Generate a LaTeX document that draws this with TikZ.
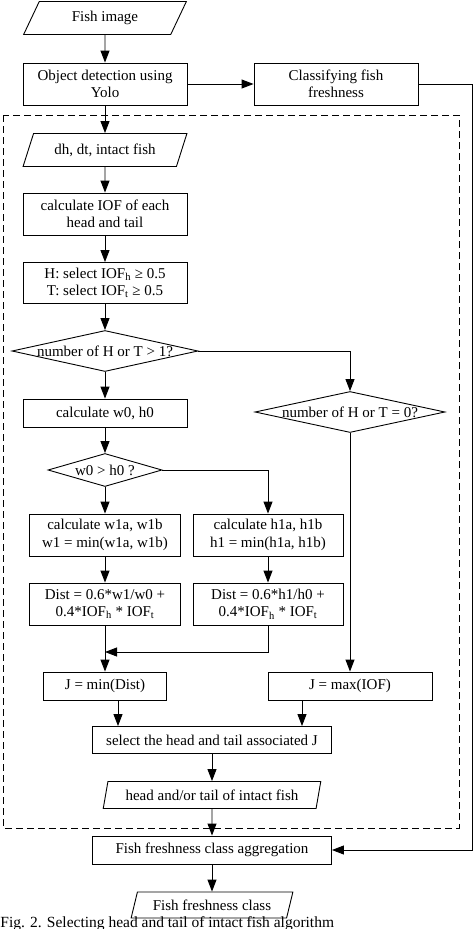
\documentclass[tikz,border=0pt]{standalone}
\usepackage{fontspec}
\setmainfont{Liberation Serif}
\usetikzlibrary{arrows.meta,shapes.geometric}

\begin{document}
\begin{tikzpicture}[x=1pt,y=-1pt,line width=0.9pt,
   font=\fontsize{15}{17.5}\selectfont,
   box/.style={draw,rectangle,inner sep=0pt,align=center,minimum height=28pt},
   io/.style={draw,trapezium,trapezium stretches=true,inner sep=0pt,align=center},
   dec/.style={draw,diamond,inner sep=0pt},
   arr/.style={-{Triangle[length=12pt,width=9pt]}}]
   \clip (0,0) rectangle (474,929);
   \useasboundingbox (0,0) rectangle (474,929);
 %
   \node[io,minimum width=164pt,minimum height=33pt,
         trapezium left angle=60,trapezium right angle=120]
         (fish)  at ( 105,  18) {Fish image};
   \node[box,minimum width=164pt,minimum height=42pt]
         (det)   at ( 105,  84) {Object detection using\\Yolo};
   \node[box,minimum width=164pt,minimum height=42pt]
         (cls)   at ( 336,  84) {Classifying fish\\freshness};
 %
   \draw[dash pattern=on 7pt off 4pt] (3,115) rectangle (459,828);
 %
   \node[io,minimum width=164pt,minimum height=33pt,
         trapezium left angle=60,trapezium right angle=120]
         (dh)    at ( 105, 150) {dh, dt, intact fish};
   \node[box,minimum width=164pt,minimum height=42pt]
         (iof)   at ( 105, 214) {calculate IOF of each\\head and tail};
   \node[box,minimum width=164pt,minimum height=41pt]
         (sel)   at ( 105, 283) {H: select IOF\textsubscript{h} ≥ 0.5\\T: select IOF\textsubscript{t} ≥ 0.5};
   \node[dec,minimum width=186pt,minimum height=41pt,
         label=center:{number of H or T > 1?}]
         (many)  at ( 105, 351) {};
   \node[dec,minimum width=190pt,minimum height=41pt,
         label=center:{number of H or T = 0?}]
         (none)  at ( 350, 412) {};
   \node[box,minimum width=164pt]
         (wh)    at ( 105, 413) {calculate w0, h0};
   \node[dec,minimum width=114pt,minimum height=33pt,
         label=center:{w0 > h0 ?}]
         (cmp)   at ( 105, 470) {};
   \node[box,minimum width=151pt,minimum height=42pt]
         (wmin)  at ( 105, 535) {calculate w1a, w1b\\w1 = min(w1a, w1b)};
   \node[box,minimum width=150pt,minimum height=42pt]
         (hmin)  at ( 268, 535) {calculate h1a, h1b\\h1 = min(h1a, h1b)};
   \node[box,minimum width=151pt,minimum height=42pt]
         (wdist) at ( 105, 604) {Dist = 0.6*w1/w0 +\\0.4*IOF\textsubscript{h} * IOF\textsubscript{t}};
   \node[box,minimum width=150pt,minimum height=42pt]
         (hdist) at ( 268, 604) {Dist = 0.6*h1/h0 +\\0.4*IOF\textsubscript{h} * IOF\textsubscript{t}};
   \node[box,minimum width=123pt]
         (jmin)  at ( 105, 686) {J = min(Dist)};
   \node[box,minimum width=164pt]
         (jmax)  at ( 350, 686) {J = max(IOF)};
   \node[box,minimum width=239pt,minimum height=27pt]
         (pick)  at ( 212, 740) {select the head and tail associated J};
   \node[io,minimum width=218pt,minimum height=27pt,
         trapezium left angle=70,trapezium right angle=110]
         (out)   at ( 212, 795) {head and/or tail of intact fish};
   \node[box,minimum width=239pt]
         (agg)   at ( 212, 850) {Fish freshness class aggregation};
   \node[io,minimum width=162pt,minimum height=26pt,
         trapezium left angle=65,trapezium right angle=115]
         (fin)   at ( 212, 905) {Fish freshness class};
   \node[anchor=north west,inner sep=0pt,font=\fontsize{15.5}{17}\selectfont]
         (cap)   at (   0, 916) {Fig. 2. Selecting head and tail of intact fish algorithm};
 %
   \coordinate (rt) at ( 472,  84);
   \coordinate (mg) at ( 105, 652);
   \coordinate (ja) at ( 118, 700);
   \coordinate (jb) at ( 302, 700);
 %
   \draw[arr] (fish)  -- (det);
   \draw[arr] (det)   -- (cls);
   \draw[arr] (cls.east) -- (rt) |- (agg.east);
   \draw[arr] (det)   -- (dh);
   \draw[arr] (dh)    -- (iof);
   \draw[arr] (iof)   -- (sel);
   \draw[arr] (sel)   -- (many);
   \draw[arr] (many.east) -| (none.north);
   \draw[arr] (many)  -- (wh);
   \draw[arr] (wh)    -- (cmp);
   \draw[arr] (cmp)   -- (wmin);
   \draw[arr] (cmp.east) -| (hmin.north);
   \draw[arr] (wmin)  -- (wdist);
   \draw[arr] (hmin)  -- (hdist);
   \draw[arr] (wdist) -- (jmin);
   \draw[arr] (hdist.south) |- (mg);
   \draw[arr] (none)  -- (jmax);
   \draw[arr] (ja)    -- (ja |- pick.north);
   \draw[arr] (jb)    -- (jb |- pick.north);
   \draw[arr] (pick)  -- (out);
   \draw[arr] (out)   -- (agg);
   \draw[arr] (agg)   -- (fin);
\end{tikzpicture}
\end{document}
